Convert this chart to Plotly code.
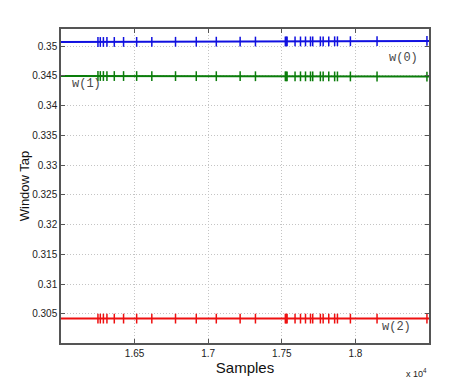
import plotly.graph_objects as go

# Sample range of the lines
line_samples = [16000, 16750, 17500, 18000, 18500]
w0_line = [0.3507, 0.35075, 0.3508, 0.35085, 0.3509]
w1_line = [0.3450, 0.34498, 0.34495, 0.34492, 0.3449]
w2_line = [0.3042, 0.3042, 0.3042, 0.3042, 0.3042]

# Update events (tick marks on each tap trajectory)
event_samples = [16251, 16267, 16288, 16312, 16362, 16425, 16514, 16617, 16778,
                 16919, 17055, 17217, 17321, 17524, 17530, 17536, 17590, 17627,
                 17661, 17695, 17710, 17762, 17781, 17819, 17859, 17878, 17966,
                 18147, 18486]

series = [
    ("w(0)", "#1010e0", w0_line),
    ("w(1)", "#0a7d0a", w1_line),
    ("w(2)", "#ee1010", w2_line),
]

x_tickvals = [16500, 17000, 17500, 18000]
x_ticktext = ["1.65", "1.7", "1.75", "1.8"]
y_tickvals = [0.305, 0.31, 0.315, 0.32, 0.325, 0.33, 0.335, 0.34, 0.345, 0.35]
y_ticktext = ["0.305", "0.31", "0.315", "0.32", "0.325", "0.33", "0.335", "0.34", "0.345", "0.35"]


def interp(xs, ys, x):
    for i in range(len(xs) - 1):
        if xs[i] <= x <= xs[i + 1]:
            t = (x - xs[i]) / (xs[i + 1] - xs[i])
            return ys[i] + t * (ys[i + 1] - ys[i])
    return ys[-1]


fig = go.Figure()
for name, color, vals in series:
    fig.add_trace(go.Scatter(x=line_samples, y=vals, mode="lines",
                             line=dict(color=color, width=2), showlegend=False,
                             hoverinfo="skip"))
    ev_y = [interp(line_samples, vals, s) for s in event_samples]
    fig.add_trace(go.Scatter(x=event_samples, y=ev_y, mode="markers",
                             marker=dict(symbol="line-ns", size=7,
                                         line=dict(color=color, width=1.5)),
                             showlegend=False, cliponaxis=True))

labels = [("w(0)", 18330, 0.3480), ("w(1)", 16175, 0.34366), ("w(2)", 18276, 0.30282)]
for txt, x, y in labels:
    fig.add_annotation(x=x, y=y, text=txt, showarrow=False,
                       font=dict(family="Liberation Mono, Courier New, monospace",
                                 size=12, color="#484848"))

fig.add_annotation(xref="paper", yref="paper", x=1.0, y=-0.07, xanchor="right",
                   yanchor="top", text="x 10<sup>4</sup>", showarrow=False,
                   font=dict(family="Liberation Sans, Arial", size=9, color="#222"))

axis_common = dict(showline=True, linecolor="#555", linewidth=1.5, mirror="ticks",
                   ticks="inside", ticklen=4, tickcolor="#555",
                   showgrid=True, gridcolor="#c4c4c4", griddash="1px,2px", gridwidth=1,
                   zeroline=False,
                   tickfont=dict(family="Liberation Sans, Arial", size=10, color="#222"))

fig.update_layout(
    width=474, height=387,
    margin=dict(l=61, r=45, t=29, b=44),
    paper_bgcolor="white", plot_bgcolor="white",
    xaxis=dict(range=[16000, 18500], tickvals=x_tickvals, ticktext=x_ticktext,
               title=dict(text="Samples", standoff=5,
                          font=dict(family="Liberation Sans, Arial", size=15, color="#111")),
               **axis_common),
    yaxis=dict(range=[0.3001, 0.3529], tickvals=y_tickvals, ticktext=y_ticktext,
               title=dict(text="Window Tap", standoff=0,
                          font=dict(family="Liberation Sans, Arial", size=13, color="#111")),
               **axis_common),
)

fig.write_html("out.html", config={"displayModeBar": False},
               post_script="document.body.style.margin='0px';")
